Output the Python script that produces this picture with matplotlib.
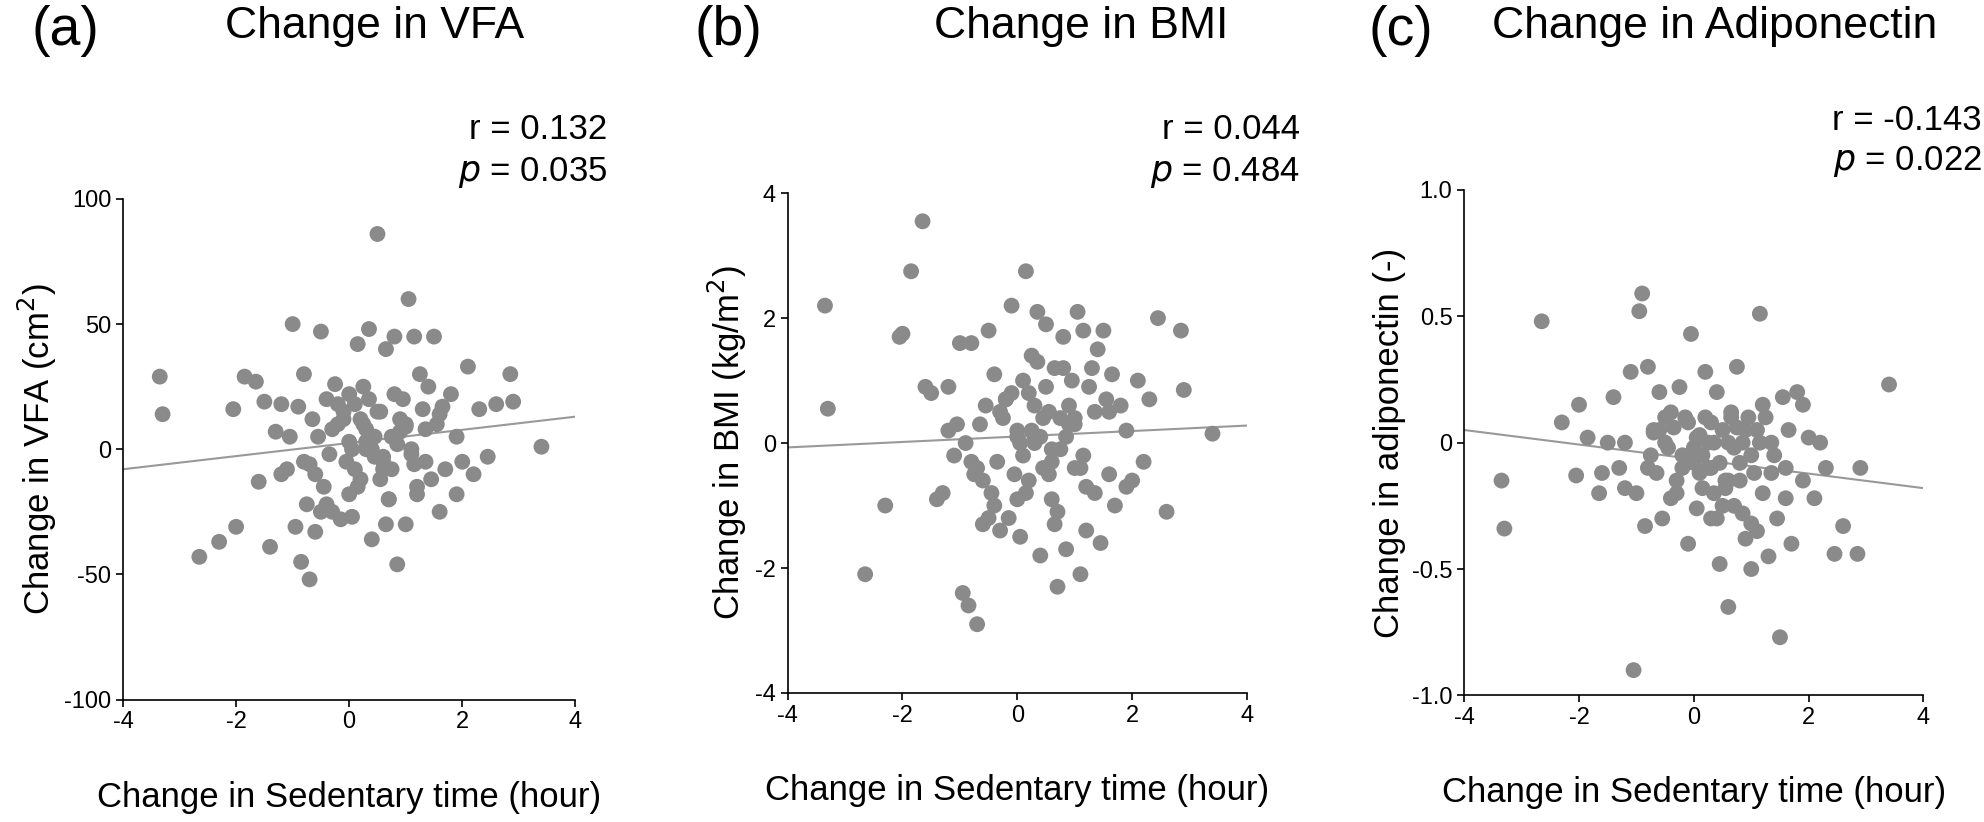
import matplotlib
matplotlib.use("Agg")
import matplotlib.pyplot as plt

plt.rcParams['font.family'] = ['Liberation Sans', 'DejaVu Sans']

sed_x = [-3.35,-3.3,-2.65,-2.3,-2.0,-2.05,-1.85,-1.65,-1.6,-1.5,
-1.4,-1.3,-1.2,-1.1,-1.0,-0.95,-0.9,-0.85,-0.8,-0.75,
-0.7,-0.65,-0.6,-0.55,-0.5,-0.45,-0.4,-0.35,-0.3,-0.25,
-0.2,-0.15,-0.1,-0.05,0.0,0.05,0.1,0.15,0.2,0.25,
0.3,0.35,0.4,0.45,0.5,0.55,0.6,0.65,0.7,0.75,
0.8,0.85,0.9,0.95,1.0,1.05,1.1,1.15,1.2,1.25,
1.3,1.35,1.4,1.45,1.5,1.55,1.6,1.65,1.7,1.8,
1.9,2.0,2.1,2.2,2.3,2.45,2.6,2.85,2.9,3.4,
-1.05,-0.6,-0.3,0.0,0.2,0.4,0.6,0.8,1.0,1.2,
0.1,0.3,0.5,0.7,0.9,1.1,-0.2,-0.4,0.25,0.55,
0.05,0.45,0.65,0.85,1.15,1.35,-0.1,0.15,0.35,0.75,
-1.2,-0.8,-0.5,1.6,1.9,0.0,0.6,1.0,-0.7,0.3]

vfa = [29,14,-43,-37,-31,16,29,27,-13,19,
-39,7,18,-8,50,-31,17,-45,30,-22,
-52,12,-33,5,47,-15,20,-2,-25,26,
10,-28,15,-5,22,-27,18,42,-12,25,
8,48,-36,-3,86,15,-8,40,-20,5,
45,-46,12,20,-30,60,0,45,-18,30,
16,-5,25,-12,45,10,-25,17,-8,22,
5,-5,33,-10,16,-3,18,30,19,1,
5,-10,8,-18,12,0,-5,22,10,-15,
-8,3,15,-20,7,-2,18,-22,10,-12,
0,5,-30,2,-6,8,12,-15,20,-8,
-10,-5,-25,14,-18,3,-3,9,-6,0]

bmi = [2.2,0.55,-2.1,-1.0,1.75,1.7,2.75,3.55,0.9,0.8,
-0.9,-0.8,0.9,-0.2,1.6,-2.4,0.0,-2.6,1.6,-0.5,
-2.9,0.3,-1.3,0.6,1.8,-0.8,1.1,-0.3,-1.4,0.4,
0.7,-1.2,2.2,-0.5,0.2,-1.5,1.0,2.75,-0.6,1.4,
0.1,2.1,-1.8,-0.4,1.9,0.5,-0.9,1.2,-2.3,0.4,
1.7,-1.7,0.6,1.0,-0.4,2.1,-2.1,1.8,-1.4,0.9,
1.2,-0.8,1.5,-1.6,1.8,0.7,-0.5,1.1,-1.0,0.6,
0.2,-0.6,1.0,-0.3,0.7,2.0,-1.1,1.8,0.85,0.15,
0.3,-0.6,0.5,-0.9,0.8,0.1,-0.3,1.2,0.4,-0.7,
-0.2,0.6,0.9,-1.1,0.3,-0.4,0.7,-1.0,0.2,-0.5,
0.0,0.4,-1.3,0.1,-0.2,0.5,0.8,-0.8,1.3,-0.1,
0.2,-0.3,-1.2,0.5,-0.7,0.1,-0.1,0.3,-0.4,0.0]

adipo = [-0.15,-0.34,0.48,0.08,0.15,-0.13,0.02,-0.2,-0.12,0.0,
0.18,-0.1,0.0,0.28,-0.2,0.52,0.59,-0.33,0.3,-0.05,
0.05,-0.12,0.2,-0.3,0.1,-0.02,-0.22,0.06,-0.15,0.22,
-0.05,0.1,-0.4,0.43,-0.02,-0.26,0.03,-0.18,0.28,-0.1,
-0.3,0.0,0.2,-0.48,0.05,-0.15,-0.65,0.12,-0.25,0.3,
-0.08,0.0,-0.38,0.1,-0.5,-0.12,0.05,0.51,-0.2,0.1,
-0.45,0.0,-0.05,-0.3,-0.77,0.18,-0.1,0.05,-0.4,0.2,
-0.15,0.02,-0.22,0.0,-0.1,-0.44,-0.33,-0.44,-0.1,0.23,
-0.9,0.05,-0.2,-0.08,0.1,-0.3,0.0,-0.15,-0.05,0.15,
-0.12,0.08,-0.25,-0.02,0.05,-0.35,-0.1,0.12,0.0,-0.18,
0.02,-0.08,0.1,-0.28,0.0,-0.12,0.08,-0.05,-0.2,0.06,
-0.18,-0.1,0.0,-0.22,0.15,-0.05,-0.15,-0.32,0.04,-0.1]

fit_x = [-4, 4]
fit_vfa = [-8, 13]
fit_bmi = [-0.07, 0.28]
fit_adipo = [0.05, -0.18]

r_vals = ["0.132", "0.044", "-0.143"]
p_vals = ["0.035", "0.484", "0.022"]
titles = ["Change in VFA", "Change in BMI", "Change in Adiponectin"]
letters = ["(a)", "(b)", "(c)"]
ylabels = ["Change in VFA (cm$^2$)", "Change in BMI (kg/m$^2$)", "Change in adiponectin (-)"]
ylims = [(-100, 100), (-4, 4), (-1.0, 1.0)]
yticks = [[-100, -50, 0, 50, 100], [-4, -2, 0, 2, 4], [-1.0, -0.5, 0, 0.5, 1.0]]
yticklabels = [["-100", "-50", "0", "50", "100"], ["-4", "-2", "0", "2", "4"],
               ["-1.0", "-0.5", "0", "0.5", "1.0"]]
xticks = [-4, -2, 0, 2, 4]

fig = plt.figure(figsize=(19.84, 8.22), dpi=100)
rects = [[0.062, 0.149, 0.228, 0.609], [0.397, 0.157, 0.2315, 0.608], [0.738, 0.154, 0.2315, 0.615]]
letter_x = [0.016, 0.350, 0.690]
title_x = [0.189, 0.545, 0.864]
rtext_x = [0.306, 0.655, 0.999]
rtext_y = [(0.842, 0.79), (0.842, 0.79), (0.854, 0.803)]
ys = [vfa, bmi, adipo]
fits = [fit_vfa, fit_bmi, fit_adipo]
gray = '#8a8a8a'

for i in range(3):
    ax = fig.add_axes(rects[i])
    ax.scatter(sed_x, ys[i], s=130, color=gray, edgecolors='none', zorder=3)
    ax.plot(fit_x, fits[i], color='#999999', lw=1.5, zorder=2)
    ax.set_xlim(-4, 4)
    ax.set_ylim(*ylims[i])
    ax.set_xticks(xticks)
    ax.set_xticklabels([str(t) for t in xticks])
    ax.set_yticks(yticks[i])
    ax.set_yticklabels(yticklabels[i])
    for s in ['top', 'right']:
        ax.spines[s].set_visible(False)
    for s in ['left', 'bottom']:
        ax.spines[s].set_linewidth(1.2)
    ax.tick_params(labelsize=17, direction='out', length=5, width=1.2)
    ax.set_ylabel(ylabels[i], fontsize=25)
    ax.set_xlabel("Change in Sedentary time (hour)", fontsize=25, labelpad=34)
    fig.text(letter_x[i], 0.962, letters[i], fontsize=40, va='center', ha='left')
    fig.text(title_x[i], 0.968, titles[i], fontsize=32, va='center', ha='center')
    fig.text(rtext_x[i], rtext_y[i][0], "r = " + r_vals[i], fontsize=25, ha='right', va='center')
    fig.text(rtext_x[i], rtext_y[i][1], "$p$ = " + p_vals[i], fontsize=25, ha='right', va='center')

fig.savefig("out.png", dpi=100)
